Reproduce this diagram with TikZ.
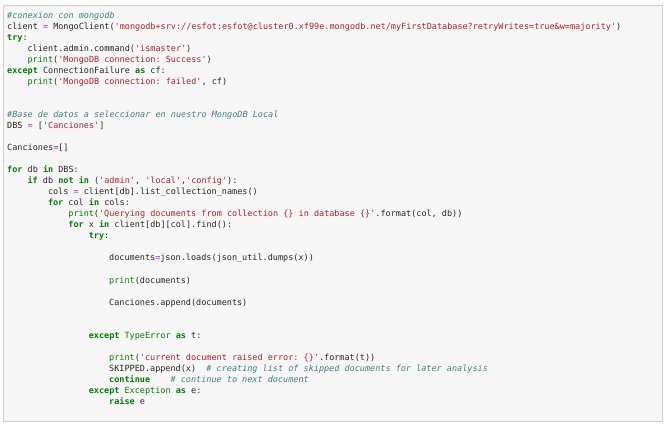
\documentclass[tikz,border=0pt]{standalone}
\usepackage{fontspec}
\setmonofont{DejaVu Sans Mono}
\definecolor{kwc}{HTML}{008000}
\definecolor{stc}{HTML}{BA2121}
\definecolor{cmc}{HTML}{408080}
\definecolor{opc}{HTML}{AA22FF}
\definecolor{bgc}{HTML}{F7F7F7}
\definecolor{bdc}{HTML}{CFCFCF}
\newcommand{\kw}[1]{{\color{kwc}\bfseries #1}}
\newcommand{\bi}[1]{{\color{kwc}#1}}
\newcommand{\st}[1]{{\color{stc}#1}}
\newcommand{\cm}[1]{{\color{cmc}\itshape #1}}
\newcommand{\op}[1]{{\color{opc}#1}}
\tikzset{codeline/.style={anchor=base west,inner sep=0pt,font=\ttfamily\fontsize{8.5}{10}\selectfont,text=black!85}}
\newcommand{\codeln}[4]{\node[codeline] (#1) at ({7+#2*5.1},{423-#3}) {#4};}
\begin{document}
\begin{tikzpicture}[x=1pt,y=1pt]
\useasboundingbox (0,0) rectangle (666,426);
\draw[bdc,fill=bgc] (3.5,4.5) rectangle (662.5,421);
\codeln{l1}{0}{16}{\cm{\#conexion con mongodb}}
\codeln{l2}{0}{27}{client \op{=} MongoClient(\st{'mongodb+srv://esfot:esfot@cluster0.xf99e.mongodb.net/myFirstDatabase?retryWrites=true\&w=majority'})}
\codeln{l3}{0}{38}{\kw{try}:}
\codeln{l4}{4}{49}{client.admin.command(\st{'ismaster'})}
\codeln{l5}{4}{60}{\bi{print}(\st{'MongoDB connection: Success'})}
\codeln{l6}{0}{71}{\kw{except} ConnectionFailure \kw{as} cf:}
\codeln{l7}{4}{82}{\bi{print}(\st{'MongoDB connection: failed'}, cf)}
\codeln{l8}{0}{115}{\cm{\#Base de datos a seleccionar en nuestro MongoDB Local}}
\codeln{l9}{0}{126}{DBS \op{=} [\st{'Canciones'}]}
\codeln{l10}{0}{148}{Canciones\op{=}[]}
\codeln{l11}{0}{170}{\kw{for} db \kw{in} DBS:}
\codeln{l12}{4}{181}{\kw{if} db \kw{not} \kw{in} (\st{'admin'}, \st{'local'},\st{'config'}):}
\codeln{l13}{8}{192}{cols \op{=} client[db].list\_collection\_names()}
\codeln{l14}{8}{203}{\kw{for} col \kw{in} cols:}
\codeln{l15}{12}{214}{\bi{print}(\st{'Querying documents from collection \{\} in database \{\}'}.format(col, db))}
\codeln{l16}{12}{225}{\kw{for} x \kw{in} client[db][col].find():}
\codeln{l17}{16}{236}{\kw{try}:}
\codeln{l18}{20}{258}{documents\op{=}json.loads(json\_util.dumps(x))}
\codeln{l19}{20}{280}{\bi{print}(documents)}
\codeln{l20}{20}{302}{Canciones.append(documents)}
\codeln{l21}{16}{335}{\kw{except} \bi{TypeError} \kw{as} t:}
\codeln{l22}{20}{357}{\bi{print}(\st{'current document raised error: \{\}'}.format(t))}
\codeln{l23}{20}{368}{SKIPPED.append(x)~~\cm{\#~creating~list~of~skipped~documents~for~later~analysis}}
\codeln{l24}{20}{379}{\kw{continue}~~~~\cm{\#~continue~to~next~document}}
\codeln{l25}{16}{390}{\kw{except} \bi{Exception} \kw{as} e:}
\codeln{l26}{20}{401}{\kw{raise} e}
\end{tikzpicture}
\end{document}
